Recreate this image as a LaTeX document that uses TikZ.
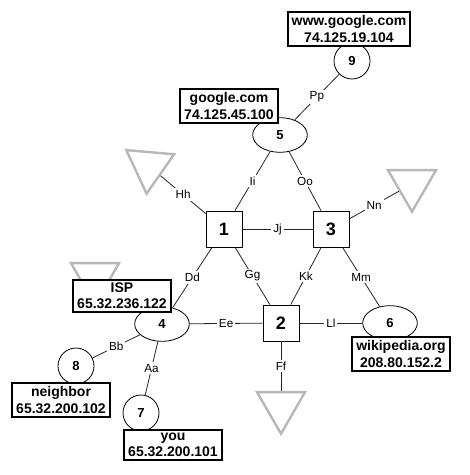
\documentclass[tikz,border=0pt]{standalone}
\usepackage{fontspec}
\setmainfont{Liberation Sans}
\usetikzlibrary{shapes.geometric}
\usepackage{xcolor}
\newcommand{\RouterSize}{27pt}
\newcommand{\HostSize}{27pt}
\newcommand{\CloudSize}{41.6pt}
\colorlet{wireColor}{black!85}
\colorlet{cloudStroke}{black!28}

\begin{document}
\begin{tikzpicture}[
  x=0.75pt,y=-0.75pt,
  router/.style={draw,fill=white,line width=0.6pt,minimum size=\RouterSize,inner sep=0pt,
    font=\fontsize{13.5}{14}\selectfont\bfseries},
  host/.style={circle,draw,fill=white,line width=0.6pt,minimum size=\HostSize,inner sep=0pt,
    font=\fontsize{9.8}{11}\selectfont\bfseries},
  server/.style={ellipse,draw,fill=white,line width=0.6pt,minimum width=41pt,minimum height=26pt,
    inner sep=0pt,font=\fontsize{9.8}{11}\selectfont\bfseries},
  cloud/.style={regular polygon,regular polygon sides=3,shape border rotate=#1,draw=cloudStroke,
    line width=1.8pt,fill=white,minimum size=\CloudSize,inner sep=0pt},
  cloud/.default=180,
  addr/.style={draw,fill=white,line width=1.5pt,inner xsep=3pt,inner ysep=2.5pt,align=center,
    font=\fontsize{10.5}{12.2}\selectfont\bfseries},
  wire/.style={draw=wireColor,line width=0.6pt},
  wlabel/.style={fill=white,inner sep=1.5pt,font=\fontsize{8.8}{10}\selectfont}
]
\useasboundingbox (0,0) rectangle (469,475);

% Outside networks
\node[cloud=175] (Tl) at (149,166) {};
\node[cloud] (Tr) at (412,184) {};
\node[cloud] (Tb) at (281,406) {};
\node[cloud] (Ti) at (95,277) {};

% Routers
\node[router] (R1) at (224,229) {1};
\node[router] (R2) at (281,323) {2};
\node[router] (R3) at (331,229) {3};

% Hosts and servers
\node[server] (S4) at (162,324) {4};
\node[server] (S5) at (280,135) {5};
\node[server] (S6) at (390,323) {6};
\node[host] (H7) at (141,413) {7};
\node[host] (H8) at (76,366) {8};
\node[host] (H9) at (352,61) {9};

% Links
\draw[wire] (S4) -- node[wlabel]{Aa} (H7);
\draw[wire] (S4) -- node[wlabel]{Bb} (H8);
\draw[wire] (R1) -- node[wlabel]{Dd} (S4);
\draw[wire] (S4) -- node[wlabel]{Ee} (R2);
\draw[wire] (R2) -- node[wlabel]{Ff} (Tb);
\draw[wire] (R1) -- node[wlabel]{Gg} (R2);
\draw[wire] (R1) -- node[wlabel]{Hh} (Tl);
\draw[wire] (R1) -- node[wlabel]{Ii} (S5);
\draw[wire] (R1) -- node[wlabel]{Jj} (R3);
\draw[wire] (R3) -- node[wlabel]{Kk} (R2);
\draw[wire] (R2) -- node[wlabel]{Ll} (S6);
\draw[wire] (R3) -- node[wlabel]{Mm} (S6);
\draw[wire] (R3) -- node[wlabel]{Nn} (Tr);
\draw[wire] (S5) -- node[wlabel]{Oo} (R3);
\draw[wire] (S5) -- node[wlabel]{Pp} (H9);

% Address boxes
\node[addr] (A9) at (349,29) {www.google.com\\74.125.19.104};
\node[addr] (A5) at (229,106) {google.com\\74.125.45.100};
\node[addr] (A4) at (122,296) {ISP\\65.32.236.122};
\node[addr] (A8) at (61,400) {neighbor\\65.32.200.102};
\node[addr] (A7) at (173,445) {you\\65.32.200.101};
\node[addr] (A6) at (401,354) {wikipedia.org\\208.80.152.2};

\end{tikzpicture}
\end{document}
